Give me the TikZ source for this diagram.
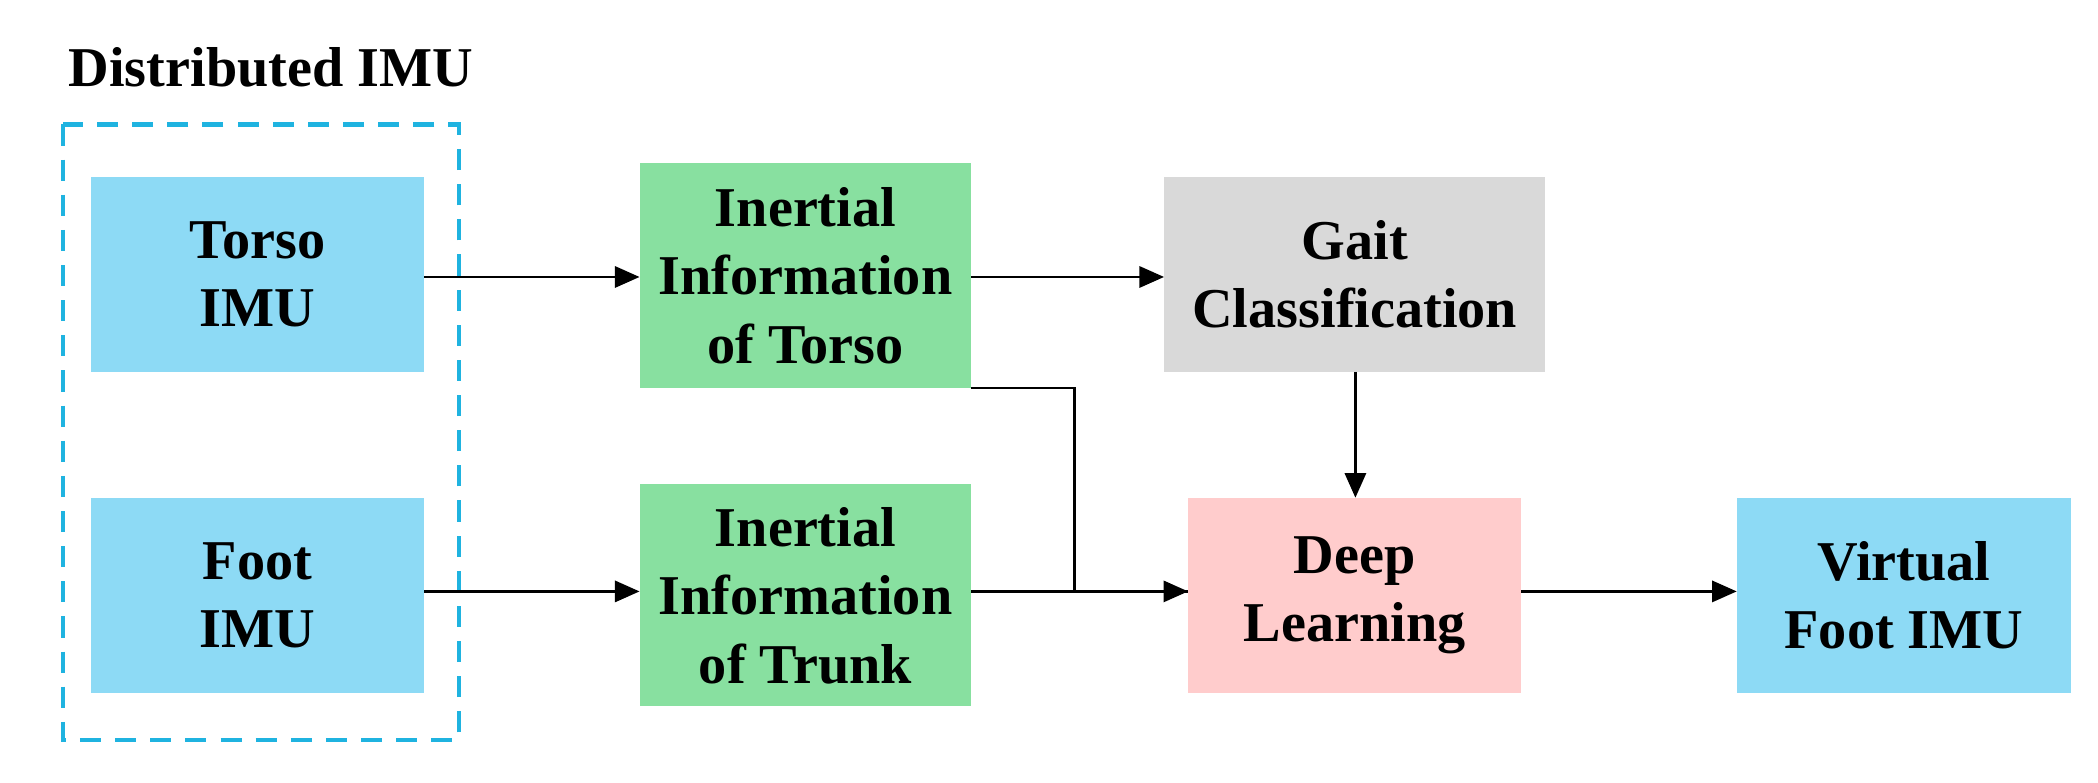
\documentclass[tikz,border=0pt]{standalone}
\usepackage{fontspec}
\setmainfont{Liberation Serif}
\usetikzlibrary{arrows.meta}
\definecolor{cblue}{HTML}{8DDAF5}
\definecolor{cgreen}{HTML}{88E0A0}
\definecolor{cgray}{HTML}{D9D9D9}
\definecolor{cpink}{HTML}{FFCCCC}
\definecolor{cdash}{HTML}{1FB3E0}
\begin{document}
\begin{tikzpicture}[x=0.01338cm,y=-0.01338cm,
  box/.style={inner sep=0pt,align=center,font=\fontsize{16}{19.5}\selectfont\bfseries},
  arr/.style={-{Triangle[length=7pt,width=6pt]},line width=0.8pt}]
\useasboundingbox (0,0) rectangle (1568,585);
\node[anchor=west,font=\fontsize{16}{19}\selectfont\bfseries] (title) at (42,50) {Distributed IMU};
\draw[cdash,dashed,line width=1.2pt,dash pattern=on 6pt off 4pt] (47,93) rectangle (343,553);
\path[fill=cblue] (68,132) rectangle (317,278) coordinate (a2);
\node[box] (torso) at (192.5,205) {Torso\\IMU};
\path[fill=cblue] (68,372) rectangle (317,518);
\node[box] (foot) at (192.5,445) {Foot\\IMU};
\path[fill=cgreen] (478,122) rectangle (726,290);
\node[box] (it) at (602,206) {Inertial\\Information\\of Torso};
\path[fill=cgreen] (478,362) rectangle (726,528);
\node[box] (itr) at (602,445) {Inertial\\Information\\of Trunk};
\path[fill=cgray] (870,132) rectangle (1155,278);
\node[box] (gait) at (1012.5,205) {Gait\\Classification};
\path[fill=cpink] (888,372) rectangle (1137,518);
\node[box] (deep) at (1012.5,445) {Deep\\Learning};
\path[fill=cblue] (1298,372) rectangle (1548,518);
\node[box] (virt) at (1423,445) {Virtual\\Foot IMU};
\coordinate (tR) at (317,207); \coordinate (itL) at (478,207);
\coordinate (itR) at (726,207); \coordinate (gL) at (870,207);
\coordinate (fR) at (317,442); \coordinate (itrL) at (478,442);
\coordinate (itrR) at (726,442); \coordinate (dL) at (888,442);
\coordinate (itB) at (726,290); \coordinate (gB) at (1013,278);
\coordinate (dT) at (1013,372); \coordinate (dR) at (1137,442);
\coordinate (vL) at (1298,442);
\draw[arr] (tR) -- (itL);
\draw[arr] (itR) -- (gL);
\draw[arr] (fR) -- (itrL);
\draw[arr] (itrR) -- (dL);
\draw[line width=0.8pt] (itB) -- (803,290) -- (803,442) -- (dL);
\draw[arr] (gB) -- (dT);
\draw[arr] (dR) -- (vL);
\end{tikzpicture}
\end{document}
